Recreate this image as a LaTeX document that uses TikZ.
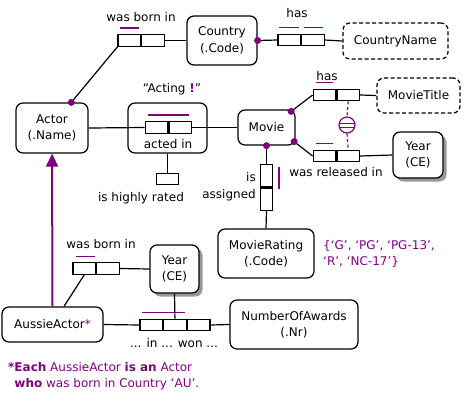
\documentclass[tikz,border=0pt]{standalone}
\usepackage{fontspec}
\setmainfont{DejaVu Sans}
\usetikzlibrary{positioning,calc,shadows,arrows.meta}
\definecolor{ormpurple}{RGB}{128,0,128}
\tikzset{
  ent/.style={draw, rounded corners=7pt, line width=1.25pt, align=center, inner sep=0pt},
  vtype/.style={ent, dash pattern=on 4pt off 2.5pt},
  shad/.style={fill=white, drop shadow={shadow xshift=3.5pt, shadow yshift=-3.5pt, fill=black!40, opacity=1}},
  role/.style={draw, line width=1.2pt, minimum width=22.5pt, minimum height=11.5pt, inner sep=0pt},
  vrole/.style={role, minimum width=11.5pt, minimum height=22.5pt},
  uc/.style={draw=ormpurple, line width=1.6pt},
  conn/.style={line width=1.2pt},
  mand/.style={fill=ormpurple},
  lbl/.style={inner sep=0pt},
}
\begin{document}
\begin{tikzpicture}[x=1pt, y=-1pt, font=\fontsize{12}{16.5}\selectfont]
            \useasboundingbox (0,0) rectangle (465,400);
            \node[ent, minimum width=72pt, minimum height=50pt] (actor) at (52,128) {Actor\\(.Name)};
            \node[ent, minimum width=70pt, minimum height=49pt] (country) at (222,40.5) {Country\\(.Code)};
            \node[vtype, minimum width=105pt, minimum height=36pt] (cname) at (395.5,41) {CountryName};
            \node[ent, minimum width=57pt, minimum height=35pt] (movie) at (266.5,127.5) {Movie};
            \node[vtype, minimum width=83pt, minimum height=35pt] (mtitle) at (418.5,95.5) {MovieTitle};
            \node[ent, shad, minimum width=50pt, minimum height=46pt] (yearA) at (418,155) {Year\\(CE)};
            \node[ent, minimum width=96pt, minimum height=49pt] (rating) at (266,253.5) {MovieRating\\(.Code)};
            \node[ent, minimum width=128pt, minimum height=49pt] (awards) at (294,324.5) {NumberOfAwards\\(.Nr)};
            \node[ent, shad, minimum width=49pt, minimum height=48pt] (yearB) at (174.5,269) {Year\\(CE)};
            \node[ent, minimum width=101pt, minimum height=35pt] (aussie) at (52.5,324.5) {AussieActor{\color{ormpurple}*}};
            \node[ent, minimum width=79pt, minimum height=50pt] (acting) at (167.5,128) {};
            \node[role] (bc1) at (129.25,40.5) {};
            \node[role, right=0pt of bc1] (bc2) {};
            \node[role] (hcn1) at (289.25,40) {};
            \node[role, right=0pt of hcn1] (hcn2) {};
            \node[role] (act1) at (156.5,127.5) {};
            \node[role, right=0pt of act1] (act2) {};
            \node[role] (hrated) at (167.5,179) {};
            \node[vrole] (asg1) at (266.5,175.5) {};
            \node[vrole, below=0pt of asg1] (asg2) {};
            \node[role] (hmt1) at (324.5,95) {};
            \node[role, right=0pt of hmt1] (hmt2) {};
            \node[role] (rel1) at (324.5,156) {};
            \node[role, right=0pt of rel1] (rel2) {};
            \node[role] (by1) at (84.25,268.5) {};
            \node[role, right=0pt of by1] (by2) {};
            \node[role] (won1) at (151.25,325) {};
            \node[role, right=0pt of won1] (won2) {};
            \node[role, right=0pt of won2] (won3) {};
            \node[circle, draw=ormpurple, line width=1.2pt, minimum size=16pt, inner sep=0pt] (euc) at (347,125) {};
            \node[lbl] (bclbl) at (141,17) {was born in};
            \node[lbl] (hcnlbl) at (297,13) {has};
            \node[lbl] (actlbl) at (172,89) {“Acting {\color{ormpurple}\bfseries !}”};
            \node[lbl] (actin) at (168,144) {acted in};
            \node[lbl] (hrlbl) at (141,198) {is highly rated};
            \node[lbl, align=right, anchor=east] (asglbl) at (256,186.5) {is\\assigned};
            \node[lbl] (hmtlbl) at (327,76) {has};
            \node[lbl] (rellbl) at (336,172) {was released in};
            \node[lbl, align=left, anchor=west, text=ormpurple] (vc) at (323,254) {\{‘G’, ‘PG’, ‘PG-13’,\\‘R’, ‘NC-17’\}};
            \node[lbl] (bylbl) at (101,244) {was born in};
            \node[lbl] (wonlbl) at (174,343) {... in ... won ...};
            \node[lbl, align=left, anchor=west, text=ormpurple] (note) at (8,376) {{\bfseries *Each} AussieActor {\bfseries is an} Actor\\\phantom{\bfseries *}{\bfseries who} was born in Country ‘AU’.};
            \coordinate (mvA) at ($(movie.north east)+(-4.5,2)$);
            \coordinate (mvB) at ($(movie.south east)+(-1.5,-4)$);
            \draw[conn] (actor.53) -- (bc1.south west);
            \draw[conn] (bc2.east) -- (country.west);
            \draw[conn] (country.east) -- (hcn1.west);
            \draw[conn] (hcn2.east) -- (cname.west);
            \draw[conn] (actor.east) -- (act1.west);
            \draw[conn] (act2.east) -- (movie.west);
            \draw[conn] (acting.south) -- (hrated.north);
            \draw[conn] (movie.south) -- (asg1.north);
            \draw[conn] (asg2.south) -- (rating.north);
            \draw[conn] (mvA) -- (hmt1.west);
            \draw[conn] (hmt2.east) -- (mtitle.west);
            \draw[conn] (mvB) -- (rel1.west);
            \draw[conn] (rel2.east) -- (yearA.west);
            \draw[conn] ($(aussie.north)+(11.5,0)$) -- (by1.south);
            \draw[conn] (by2.east) -- (yearB.west);
            \draw[conn] (aussie.east) -- (won1.west);
            \draw[conn] (won3.east) -- (awards.west);
            \draw[conn] (yearB.south) -- (won2.north);
            \draw[ormpurple, line width=2pt, -{Triangle[length=13pt, width=12pt]}] (aussie) -- (actor);
            \draw[ormpurple, line width=1.2pt, dash pattern=on 3pt off 2.5pt] (hmt2.south) -- (euc.north);
            \draw[ormpurple, line width=1.2pt, dash pattern=on 3pt off 2.5pt] (euc.south) -- (rel2.north);
            \draw[ormpurple, line width=1pt] ($(euc.west)+(0.4,-2)$) -- ($(euc.east)+(-0.4,-2)$);
            \draw[ormpurple, line width=1pt] ($(euc.west)+(0.4,2)$) -- ($(euc.east)+(-0.4,2)$);
            \draw[uc] ($(bc1.north west)+(3,-6)$) -- ($(bc1.north east)+(-2.5,-6)$);
            \draw[uc] ($(hcn1.north west)+(2,-6)$) -- ($(hcn1.north east)+(-2.5,-6)$);
            \draw[uc] ($(hcn2.north west)+(2.5,-6)$) -- ($(hcn2.north east)+(-2,-6)$);
            \draw[uc] ($(act1.north west)+(3,-6)$) -- ($(act2.north east)+(-3,-6)$);
            \draw[uc] ($(hmt1.north west)+(3,-6)$) -- ($(hmt1.north east)+(-3,-6)$);
            \draw[uc] ($(rel1.north west)+(3,-6)$) -- ($(rel1.north east)+(-3,-6)$);
            \draw[uc] ($(by1.north west)+(4,-5.5)$) -- ($(by1.north east)+(-1.5,-5.5)$);
            \draw[uc] ($(won1.north west)+(3,-6)$) -- ($(won2.north east)+(-2,-6)$);
            \draw[uc] ($(asg1.north east)+(6,3)$) -- ($(asg1.south east)+(6,2)$);
            \fill[mand] (actor.53) circle (3.5);
            \fill[mand] (country.east) circle (3.5);
            \fill[mand] (mvA) circle (3.5);
            \fill[mand] (mvB) circle (3.5);
            \fill[mand] (movie.south) circle (3.5);
        \end{tikzpicture}
\end{document}
